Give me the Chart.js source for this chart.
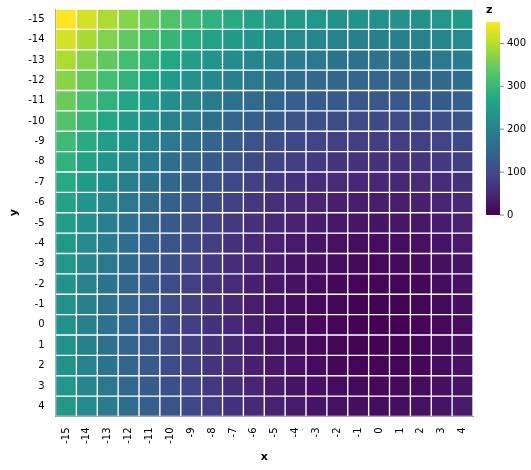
<!DOCTYPE html>
<html>
<head>
<meta charset="utf-8">
<script src="https://cdn.jsdelivr.net/npm/chart.js@4"></script>
<style>
  body { margin: 0; background: #fff; }
  #wrap { width: 531px; height: 470px; }
</style>
</head>
<body>
<div id="wrap"><canvas id="heat"></canvas></div>
<script>
var xLabels = ['-15','-14','-13','-12','-11','-10','-9','-8','-7','-6','-5','-4','-3','-2','-1','0','1','2','3','4'];
var yValues = [-15,-14,-13,-12,-11,-10,-9,-8,-7,-6,-5,-4,-3,-2,-1,0,1,2,3,4];
// z values, one row per y (top to bottom), columns follow xLabels
var zRows = [
  [450,421,394,369,346,325,306,289,274,261,250,241,234,229,226,225,226,229,234,241],
  [421,392,365,340,317,296,277,260,245,232,221,212,205,200,197,196,197,200,205,212],
  [394,365,338,313,290,269,250,233,218,205,194,185,178,173,170,169,170,173,178,185],
  [369,340,313,288,265,244,225,208,193,180,169,160,153,148,145,144,145,148,153,160],
  [346,317,290,265,242,221,202,185,170,157,146,137,130,125,122,121,122,125,130,137],
  [325,296,269,244,221,200,181,164,149,136,125,116,109,104,101,100,101,104,109,116],
  [306,277,250,225,202,181,162,145,130,117,106,97,90,85,82,81,82,85,90,97],
  [289,260,233,208,185,164,145,128,113,100,89,80,73,68,65,64,65,68,73,80],
  [274,245,218,193,170,149,130,113,98,85,74,65,58,53,50,49,50,53,58,65],
  [261,232,205,180,157,136,117,100,85,72,61,52,45,40,37,36,37,40,45,52],
  [250,221,194,169,146,125,106,89,74,61,50,41,34,29,26,25,26,29,34,41],
  [241,212,185,160,137,116,97,80,65,52,41,32,25,20,17,16,17,20,25,32],
  [234,205,178,153,130,109,90,73,58,45,34,25,18,13,10,9,10,13,18,25],
  [229,200,173,148,125,104,85,68,53,40,29,20,13,8,5,4,5,8,13,20],
  [226,197,170,145,122,101,82,65,50,37,26,17,10,5,2,1,2,5,10,17],
  [225,196,169,144,121,100,81,64,49,36,25,16,9,4,1,0,1,4,9,16],
  [226,197,170,145,122,101,82,65,50,37,26,17,10,5,2,1,2,5,10,17],
  [229,200,173,148,125,104,85,68,53,40,29,20,13,8,5,4,5,8,13,20],
  [234,205,178,153,130,109,90,73,58,45,34,25,18,13,10,9,10,13,18,25],
  [241,212,185,160,137,116,97,80,65,52,41,32,25,20,17,16,17,20,25,32]
];
var legendTicks = [0, 100, 200, 300, 400];
var zMax = 450;

var viridis = ['#440154','#482475','#414487','#355f8d','#2a788e','#21918c','#22a884','#44bf70','#7ad151','#bddf26','#fde725'];
function hex(c) { return [parseInt(c.substr(1,2),16), parseInt(c.substr(3,2),16), parseInt(c.substr(5,2),16)]; }
function colorFor(z) {
  var t = Math.max(0, Math.min(1, z / zMax)) * (viridis.length - 1);
  var i = Math.min(Math.floor(t), viridis.length - 2), f = t - i;
  var a = hex(viridis[i]), b = hex(viridis[i + 1]);
  return 'rgb(' + a.map(function (v, k) { return Math.round(v + (b[k] - v) * f); }).join(',') + ')';
}

var datasets = yValues.map(function (y, r) {
  return {
    label: 'y=' + y,
    data: xLabels.map(function () { return [y - 0.5, y + 0.5]; }),
    backgroundColor: zRows[r].map(colorFor),
    borderColor: '#fff',
    borderWidth: 1,
    borderSkipped: false,
    barPercentage: 1,
    categoryPercentage: 1,
    grouped: false
  };
});

var colorBar = {
  id: 'colorBar',
  afterDraw: function (chart) {
    var ctx = chart.ctx, x = 486, top = 22, bottom = 215, w = 14;
    var g = ctx.createLinearGradient(0, bottom, 0, top);
    viridis.forEach(function (c, i) { g.addColorStop(i / (viridis.length - 1), c); });
    ctx.save();
    ctx.fillStyle = g;
    ctx.fillRect(x, top, w, bottom - top);
    ctx.font = 'bold 11px "DejaVu Sans", sans-serif';
    ctx.fillStyle = '#000';
    ctx.textBaseline = 'alphabetic';
    ctx.fillText('z', x, 13);
    ctx.font = '10px "DejaVu Sans", sans-serif';
    ctx.fillStyle = '#000';
    ctx.strokeStyle = '#888';
    ctx.textBaseline = 'middle';
    legendTicks.forEach(function (t) {
      var yy = bottom - (t / zMax) * (bottom - top);
      ctx.beginPath(); ctx.moveTo(x + w, yy); ctx.lineTo(x + w + 4, yy); ctx.stroke();
      ctx.fillText(String(t), x + w + 7, yy);
    });
    ctx.restore();
  }
};

new Chart(document.getElementById('heat'), {
  type: 'bar',
  data: { labels: xLabels, datasets: datasets },
  plugins: [colorBar],
  options: {
    responsive: true,
    maintainAspectRatio: false,
    animation: false,
    layout: { padding: { top: 4, right: 58, left: 4, bottom: 2 } },
    plugins: { legend: { display: false }, tooltip: { enabled: false } },
    scales: {
      x: {
        grid: { display: false, drawTicks: true },
        border: { color: '#888' },
        ticks: { color: '#000', font: { size: 10, family: 'DejaVu Sans' }, minRotation: 90, maxRotation: 90 },
        title: { display: true, text: 'x', color: '#000', font: { size: 11, weight: 'bold', family: 'DejaVu Sans' } }
      },
      y: {
        type: 'linear',
        min: -15.5,
        max: 4.5,
        reverse: true,
        afterBuildTicks: function (axis) { axis.ticks = yValues.map(function (v) { return { value: v }; }); },
        grid: { display: false },
        border: { color: '#888' },
        ticks: { color: '#000', font: { size: 10, family: 'DejaVu Sans' } },
        title: { display: true, text: 'y', color: '#000', font: { size: 11, weight: 'bold', family: 'DejaVu Sans' } }
      }
    }
  }
});
</script>
</body>
</html>
